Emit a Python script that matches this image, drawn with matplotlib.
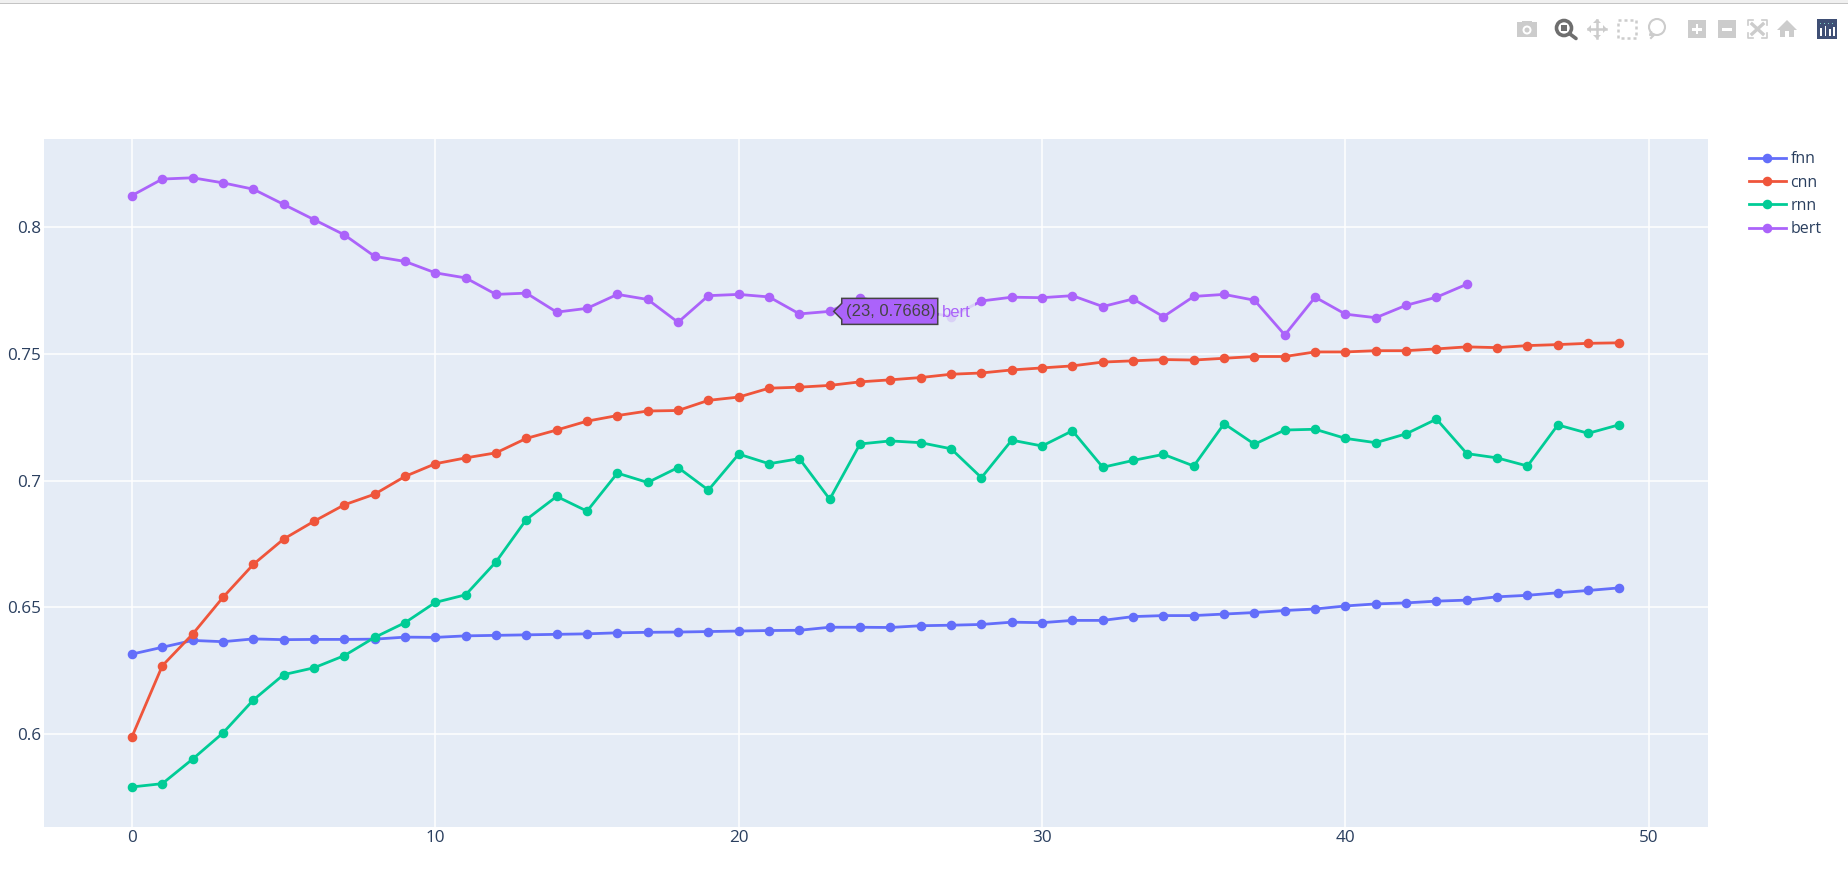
import matplotlib
matplotlib.use("Agg")
import matplotlib.pyplot as plt
from matplotlib.patches import Circle, Polygon, Rectangle

# ---------- data ----------
fnn = [0.6316, 0.6343, 0.6370, 0.6365, 0.6376, 0.6373, 0.6374, 0.6374, 0.6375, 0.6383,
       0.6382, 0.6388, 0.6390, 0.6392, 0.6394, 0.6396, 0.6400, 0.6402, 0.6403, 0.6405,
       0.6407, 0.6409, 0.6410, 0.6422, 0.6422, 0.6421, 0.6428, 0.6430, 0.6433, 0.6442,
       0.6440, 0.6449, 0.6449, 0.6464, 0.6468, 0.6468, 0.6474, 0.6480, 0.6488, 0.6494,
       0.6506, 0.6514, 0.6518, 0.6525, 0.6529, 0.6542, 0.6548, 0.6558, 0.6567, 0.6577]
cnn = [0.5990, 0.6270, 0.6395, 0.6540, 0.6670, 0.6770, 0.6840, 0.6905, 0.6947, 0.7017,
       0.7067, 0.7090, 0.7110, 0.7167, 0.7200, 0.7235, 0.7257, 0.7275, 0.7277, 0.7317,
       0.7330, 0.7365, 0.7369, 0.7376, 0.7390, 0.7398, 0.7407, 0.7420, 0.7425, 0.7437,
       0.7445, 0.7453, 0.7468, 0.7473, 0.7478, 0.7476, 0.7483, 0.7490, 0.7490, 0.7508,
       0.7508, 0.7513, 0.7513, 0.7520, 0.7528, 0.7525, 0.7533, 0.7537, 0.7542, 0.7544]
rnn = [0.5792, 0.5805, 0.5902, 0.6005, 0.6135, 0.6235, 0.6262, 0.6310, 0.6382, 0.6440,
       0.6520, 0.6550, 0.6680, 0.6847, 0.6938, 0.6880, 0.7030, 0.6993, 0.7052, 0.6963,
       0.7105, 0.7067, 0.7087, 0.6927, 0.7145, 0.7157, 0.7150, 0.7126, 0.7012, 0.7160,
       0.7137, 0.7197, 0.7053, 0.7080, 0.7104, 0.7058, 0.7225, 0.7144, 0.7200, 0.7203,
       0.7167, 0.7150, 0.7185, 0.7243, 0.7107, 0.7090, 0.7058, 0.7220, 0.7187, 0.7220]
bert = [0.8125, 0.8190, 0.8195, 0.8175, 0.8150, 0.8090, 0.8030, 0.7970, 0.7885, 0.7865,
        0.7820, 0.7800, 0.7735, 0.7740, 0.7665, 0.7680, 0.7735, 0.7715, 0.7625, 0.7730,
        0.7735, 0.7725, 0.7658, 0.7668, 0.7722, 0.7695, 0.7670, 0.7647, 0.7709, 0.7724,
        0.7722, 0.7730, 0.7687, 0.7717, 0.7647, 0.7727, 0.7735, 0.7712, 0.7575, 0.7724,
        0.7657, 0.7643, 0.7692, 0.7724, 0.7775]

series_names = ["fnn", "cnn", "rnn", "bert"]
series_values = [fnn, cnn, rnn, bert]
series_colors = ["#636efa", "#ef553b", "#00cc96", "#ab63fa"]

x_ticks = [0, 10, 20, 30, 40, 50]
y_ticks = [0.6, 0.65, 0.7, 0.75, 0.8]
y_tick_labels = ["0.6", "0.65", "0.7", "0.75", "0.8"]

hover_x = 23
hover_y = 0.7668
hover_text = "(23, 0.7668)"
hover_name = "bert"

# ---------- figure ----------
W, H = 1848, 890
TEXT = "#2a3f5f"
ICON = "#cccccc"

plt.rcParams["font.family"] = ["Open Sans", "DejaVu Sans"]
fig = plt.figure(figsize=(W / 100, H / 100), dpi=100)

# plot area (pixels)
left, right, top, bottom = 44, 1708, 139, 827
ax = fig.add_axes([left / W, 1 - bottom / H, (right - left) / W, (bottom - top) / H])
ax.set_facecolor("#e5ecf6")
ax.set_xlim(-2.9, 51.95)
ax.set_ylim(0.5634, 0.8348)

for name, values, color in zip(series_names, series_values, series_colors):
    ax.plot(range(len(values)), values, color=color, label=name,
            linewidth=2.0, marker="o", markersize=5.9, zorder=3)

ax.set_xticks(x_ticks)
ax.set_yticks(y_ticks)
ax.set_yticklabels(y_tick_labels)
ax.tick_params(length=0, labelsize=12.3, labelcolor=TEXT, pad=2)
ax.grid(True, color="white", linewidth=1.1, zorder=1)
ax.set_axisbelow(True)
for spine in ax.spines.values():
    spine.set_visible(False)

ax.legend(loc="upper left", bbox_to_anchor=(1.0244, 0.9823), frameon=False,
          fontsize=11.5, labelcolor=TEXT, handlelength=2.36, handletextpad=0.27,
          labelspacing=0.46, borderpad=0, borderaxespad=0)

# ---------- overlay in pixel coordinates (hover label, modebar) ----------
ov = fig.add_axes([0, 0, 1, 1], zorder=5)
ov.set_xlim(0, W)
ov.set_ylim(H, 0)
ov.axis("off")

fig.canvas.draw()
px, py = ax.transData.transform((hover_x, hover_y))
py = H - py

# hover label sits right of the point, with a small pointer
tip = px + 4
box_l, box_r = px + 12, px + 108
box_t, box_b = py - 13, py + 13
ov.add_patch(Polygon([(tip, py), (box_l, py - 8), (box_l, box_t), (box_r, box_t),
                      (box_r, box_b), (box_l, box_b), (box_l, py + 8)],
                     closed=True, facecolor="#ab63fa", edgecolor="#444444", linewidth=1.1))
ov.text(box_l + 4, py + 0.5, hover_text, family=["Liberation Sans"], fontsize=12.0,
        color="#444444", va="center", ha="left")
ov.add_patch(Rectangle((box_r + 1, box_t + 1), 36, 24, facecolor="#e5ecf6",
                       edgecolor="none", alpha=0.8))
ov.text(box_r + 4, py + 1, hover_name, family=["Liberation Sans"], fontsize=12.0,
        color="#ab63fa", va="center", ha="left")

# top browser edge
ov.add_patch(Rectangle((0, 0), W, 3, facecolor="#f0f0f0", edgecolor="none"))
ov.add_patch(Rectangle((0, 3), W, 1, facecolor="#c4c4c4", edgecolor="none"))

# camera
ov.add_patch(Rectangle((1517, 22), 20, 15, facecolor=ICON, edgecolor="none"))
ov.add_patch(Rectangle((1522, 21), 10, 3, facecolor=ICON, edgecolor="none"))
ov.add_patch(Circle((1527, 30), 4.5, facecolor="white", edgecolor="none"))
ov.add_patch(Circle((1527, 30), 2.5, facecolor=ICON, edgecolor="none"))
# zoom (active)
ov.add_patch(Circle((1564, 28), 7.5, facecolor="none", edgecolor="#6e6e6e", linewidth=2.6))
ov.add_patch(Rectangle((1561, 25), 6, 6, facecolor="#6e6e6e", edgecolor="none"))
ov.plot([1570, 1576], [34, 38.5], color="#6e6e6e", linewidth=2.6, solid_capstyle="round")
# pan
ov.plot([1588, 1606], [29, 29], color=ICON, linewidth=1.8)
ov.plot([1597, 1597], [20, 38], color=ICON, linewidth=1.8)
for pts in ([(1597, 19), (1593, 23), (1601, 23)], [(1597, 39), (1593, 35), (1601, 35)],
            [(1587, 29), (1591, 25), (1591, 33)], [(1607, 29), (1603, 25), (1603, 33)]):
    ov.add_patch(Polygon(pts, closed=True, facecolor=ICON, edgecolor="none"))
# box select
ov.add_patch(Rectangle((1618, 20), 18, 18, facecolor="none", edgecolor=ICON,
                       linewidth=1.8, linestyle=(0, (1.2, 1.2))))
# lasso
ov.add_patch(Circle((1657, 27), 8, facecolor="none", edgecolor=ICON, linewidth=1.5))
ov.plot([1651, 1650, 1654, 1651], [32, 35, 35, 38], color=ICON, linewidth=1.5)
# zoom in / out
ov.add_patch(Rectangle((1688, 20), 18, 18, facecolor=ICON, edgecolor="none"))
ov.add_patch(Rectangle((1692, 27.7), 10, 2.8, facecolor="white", edgecolor="none"))
ov.add_patch(Rectangle((1695.6, 24), 2.8, 10, facecolor="white", edgecolor="none"))
ov.add_patch(Rectangle((1718, 20), 18, 18, facecolor=ICON, edgecolor="none"))
ov.add_patch(Rectangle((1722, 27.7), 10, 2.8, facecolor="white", edgecolor="none"))
# autoscale
for sx, sy in ((1748, 20), (1767, 20), (1748, 38), (1767, 38)):
    dx = 5 if sx < 1757 else -5
    dy = 5 if sy < 29 else -5
    ov.plot([sx + dx, sx, sx], [sy, sy, sy + dy], color=ICON, linewidth=1.2)
ov.plot([1752, 1763], [24, 34], color=ICON, linewidth=2.4)
ov.plot([1752, 1763], [34, 24], color=ICON, linewidth=2.4)
# home
ov.add_patch(Polygon([(1777, 30), (1787, 20), (1797, 30)], closed=True, facecolor=ICON, edgecolor="none"))
ov.add_patch(Rectangle((1780, 30), 14, 6.5, facecolor=ICON, edgecolor="none"))
ov.add_patch(Rectangle((1785, 31), 4, 5.5, facecolor="white", edgecolor="none"))
# plotly logo
ov.add_patch(Rectangle((1817, 19), 20, 20, facecolor="#3f4f75", edgecolor="none"))
for bx, by in ((1820, 28), (1824.5, 26), (1829, 29), (1833, 27)):
    ov.add_patch(Rectangle((bx, by), 1.7, 36 - by, facecolor="white", edgecolor="none"))
for bx in (1820, 1824, 1828, 1832):
    ov.add_patch(Rectangle((bx, 23), 1.4, 1.4, facecolor="#7fd1c7", edgecolor="none"))

fig.savefig("out.png", dpi=100)
